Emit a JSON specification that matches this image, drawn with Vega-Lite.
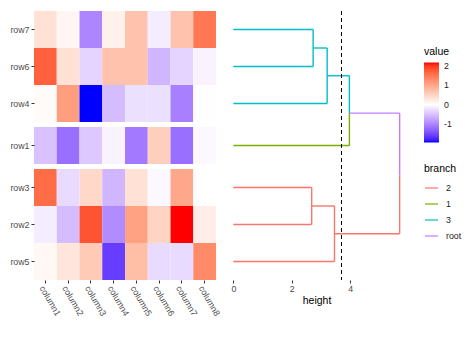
{
  "$schema": "https://vega.github.io/schema/vega-lite/v6.json",
  "padding": {"left": 9, "top": 10, "right": 0, "bottom": 0},
  "autosize": {"type": "pad"},
  "spacing": 4,
  "datasets": {
    "heat": [
      {"row": "row7", "col": "column1", "value": 0.35},
      {"row": "row7", "col": "column2", "value": 0.1},
      {"row": "row7", "col": "column3", "value": -1.0},
      {"row": "row7", "col": "column4", "value": 0.15},
      {"row": "row7", "col": "column5", "value": 0.7},
      {"row": "row7", "col": "column6", "value": -0.15},
      {"row": "row7", "col": "column7", "value": 0.7},
      {"row": "row7", "col": "column8", "value": 1.5},
      {"row": "row6", "col": "column1", "value": 1.7},
      {"row": "row6", "col": "column2", "value": 0.35},
      {"row": "row6", "col": "column3", "value": -0.35},
      {"row": "row6", "col": "column4", "value": 0.7},
      {"row": "row6", "col": "column5", "value": 0.7},
      {"row": "row6", "col": "column6", "value": -0.6},
      {"row": "row6", "col": "column7", "value": -0.35},
      {"row": "row6", "col": "column8", "value": -0.1},
      {"row": "row4", "col": "column1", "value": 0.05},
      {"row": "row4", "col": "column2", "value": 1.1},
      {"row": "row4", "col": "column3", "value": -1.95},
      {"row": "row4", "col": "column4", "value": -0.55},
      {"row": "row4", "col": "column5", "value": -0.25},
      {"row": "row4", "col": "column6", "value": -0.25},
      {"row": "row4", "col": "column7", "value": -1.05},
      {"row": "row4", "col": "column8", "value": -0.02},
      {"row": "row1", "col": "column1", "value": -0.5},
      {"row": "row1", "col": "column2", "value": -1.2},
      {"row": "row1", "col": "column3", "value": -0.45},
      {"row": "row1", "col": "column4", "value": -0.1},
      {"row": "row1", "col": "column5", "value": -1.1},
      {"row": "row1", "col": "column6", "value": 0.55},
      {"row": "row1", "col": "column7", "value": -1.2},
      {"row": "row1", "col": "column8", "value": -0.05},
      {"row": "row3", "col": "column1", "value": 1.6},
      {"row": "row3", "col": "column2", "value": -0.3},
      {"row": "row3", "col": "column3", "value": 0.45},
      {"row": "row3", "col": "column4", "value": -0.6},
      {"row": "row3", "col": "column5", "value": 0.35},
      {"row": "row3", "col": "column6", "value": -0.05},
      {"row": "row3", "col": "column7", "value": 1.0},
      {"row": "row3", "col": "column8", "value": 0.0},
      {"row": "row2", "col": "column1", "value": -0.15},
      {"row": "row2", "col": "column2", "value": -0.55},
      {"row": "row2", "col": "column3", "value": 1.8},
      {"row": "row2", "col": "column4", "value": -0.95},
      {"row": "row2", "col": "column5", "value": 1.05},
      {"row": "row2", "col": "column6", "value": 0.5},
      {"row": "row2", "col": "column7", "value": 2.17},
      {"row": "row2", "col": "column8", "value": 0.2},
      {"row": "row5", "col": "column1", "value": 0.08},
      {"row": "row5", "col": "column2", "value": 0.3},
      {"row": "row5", "col": "column3", "value": 0.6},
      {"row": "row5", "col": "column4", "value": -1.6},
      {"row": "row5", "col": "column5", "value": 0.75},
      {"row": "row5", "col": "column6", "value": -0.3},
      {"row": "row5", "col": "column7", "value": -0.3},
      {"row": "row5", "col": "column8", "value": 1.3}
    ],
    "tree": [
      {"x": 0, "x2": 2.73, "y": 0.5, "y2": 0.5, "branch": "3"},
      {"x": 0, "x2": 2.73, "y": 1.5, "y2": 1.5, "branch": "3"},
      {"x": 2.73, "x2": 2.73, "y": 0.5, "y2": 1.5, "branch": "3"},
      {"x": 2.73, "x2": 3.21, "y": 1.0, "y2": 1.0, "branch": "3"},
      {"x": 0, "x2": 3.21, "y": 2.5, "y2": 2.5, "branch": "3"},
      {"x": 3.21, "x2": 3.21, "y": 1.0, "y2": 2.5, "branch": "3"},
      {"x": 3.21, "x2": 3.97, "y": 1.75, "y2": 1.75, "branch": "3"},
      {"x": 3.97, "x2": 3.97, "y": 1.75, "y2": 2.76, "branch": "3"},
      {"x": 3.97, "x2": 3.97, "y": 2.76, "y2": 3.635, "branch": "1"},
      {"x": 0, "x2": 3.97, "y": 3.635, "y2": 3.635, "branch": "1"},
      {"x": 3.97, "x2": 5.69, "y": 2.76, "y2": 2.76, "branch": "root"},
      {"x": 5.69, "x2": 5.69, "y": 2.76, "y2": 4.45, "branch": "root"},
      {"x": 5.69, "x2": 5.69, "y": 4.45, "y2": 6.02, "branch": "2"},
      {"x": 3.46, "x2": 5.69, "y": 6.02, "y2": 6.02, "branch": "2"},
      {"x": 3.46, "x2": 3.46, "y": 5.27, "y2": 6.77, "branch": "2"},
      {"x": 0, "x2": 3.46, "y": 6.77, "y2": 6.77, "branch": "2"},
      {"x": 2.68, "x2": 3.46, "y": 5.27, "y2": 5.27, "branch": "2"},
      {"x": 2.68, "x2": 2.68, "y": 4.77, "y2": 5.77, "branch": "2"},
      {"x": 0, "x2": 2.68, "y": 4.77, "y2": 4.77, "branch": "2"},
      {"x": 0, "x2": 2.68, "y": 5.77, "y2": 5.77, "branch": "2"}
    ],
    "cut": [{"h": 3.7}]
  },
  "config": {
    "font": "Liberation Sans",
    "view": {"stroke": null},
    "axis": {
      "labelFont": "Liberation Sans",
      "titleFont": "Liberation Sans",
      "labelFontSize": 8.8,
      "labelColor": "#4D4D4D",
      "tickColor": "#333333",
      "tickSize": 3,
      "domain": false,
      "grid": false,
      "titleFontSize": 10.5,
      "titleFontWeight": "normal",
      "titleColor": "#000000"
    },
    "legend": {
      "titleFont": "Liberation Sans",
      "labelFont": "Liberation Sans",
      "titleFontSize": 10.5,
      "titleFontWeight": "normal",
      "titleColor": "#000000",
      "labelFontSize": 8.8,
      "labelColor": "#1A1A1A",
      "padding": 0
    }
  },
  "resolve": {"scale": {"fill": "shared", "stroke": "shared"}},
  "hconcat": [
    {
      "spacing": 5,
      "resolve": {"scale": {"y": "independent", "fill": "shared"}},
      "vconcat": [
        {
          "width": 182,
          "height": 111,
          "data": {"name": "heat"},
          "transform": [{"filter": {"field": "row", "oneOf": ["row7", "row6", "row4"]}}],
          "mark": {"type": "rect", "strokeWidth": 0},
          "encoding": {
            "x": {"field": "col", "type": "nominal", "axis": null,
                  "scale": {"domain": ["column1", "column2", "column3", "column4", "column5", "column6", "column7", "column8"], "paddingInner": 0, "paddingOuter": 0}},
            "y": {"field": "row", "type": "nominal", "title": null,
                  "axis": {"labelPadding": 2},
                  "scale": {"domain": ["row7", "row6", "row4"], "paddingInner": 0, "paddingOuter": 0}},
            "fill": {"field": "value", "type": "quantitative",
                     "scale": {"domain": [-1.95, 2.17], "domainMid": 0, "range": ["#0000FF", "#FFFFFF", "#FF0000"], "interpolate": "lab"},
                     "legend": {"title": "value", "orient": "none", "legendX": 390, "legendY": 36, "gradientLength": 80, "gradientThickness": 15, "values": [-1, 0, 1, 2], "titlePadding": 5, "labelOffset": 5, "gradientStrokeWidth": 0,
                                "labelExpr": "datum.value < 0 ? '-' + abs(datum.value) : datum.label"}}
          }
        },
        {
          "width": 182,
          "height": 37,
          "data": {"name": "heat"},
          "transform": [{"filter": {"field": "row", "oneOf": ["row1"]}}],
          "mark": {"type": "rect", "strokeWidth": 0},
          "encoding": {
            "x": {"field": "col", "type": "nominal", "axis": null,
                  "scale": {"domain": ["column1", "column2", "column3", "column4", "column5", "column6", "column7", "column8"], "paddingInner": 0, "paddingOuter": 0}},
            "y": {"field": "row", "type": "nominal", "title": null,
                  "axis": {"labelPadding": 2},
                  "scale": {"domain": ["row1"], "paddingInner": 0, "paddingOuter": 0}},
            "fill": {"field": "value", "type": "quantitative",
                     "scale": {"domain": [-1.95, 2.17], "domainMid": 0, "range": ["#0000FF", "#FFFFFF", "#FF0000"], "interpolate": "lab"}}
          }
        },
        {
          "width": 182,
          "height": 111,
          "data": {"name": "heat"},
          "transform": [{"filter": {"field": "row", "oneOf": ["row3", "row2", "row5"]}}],
          "mark": {"type": "rect", "strokeWidth": 0},
          "encoding": {
            "x": {"field": "col", "type": "nominal", "title": null,
                  "axis": {"labelAngle": 60, "labelAlign": "left", "labelBaseline": "top", "labelPadding": 1},
                  "scale": {"domain": ["column1", "column2", "column3", "column4", "column5", "column6", "column7", "column8"], "paddingInner": 0, "paddingOuter": 0}},
            "y": {"field": "row", "type": "nominal", "title": null,
                  "axis": {"labelPadding": 2},
                  "scale": {"domain": ["row3", "row2", "row5"], "paddingInner": 0, "paddingOuter": 0}},
            "fill": {"field": "value", "type": "quantitative",
                     "scale": {"domain": [-1.95, 2.17], "domainMid": 0, "range": ["#0000FF", "#FFFFFF", "#FF0000"], "interpolate": "lab"}}
          }
        }
      ]
    },
    {
      "width": 183,
      "height": 269,
      "layer": [
        {
          "data": {"name": "tree"},
          "mark": {"type": "rule", "strokeWidth": 1.4},
          "encoding": {
            "x": {"field": "x", "type": "quantitative", "title": "height",
                  "scale": {"domain": [-0.285, 5.975], "nice": false, "zero": false},
                  "axis": {"values": [0, 2, 4], "labelPadding": 1, "titlePadding": 3}},
            "x2": {"field": "x2"},
            "y": {"field": "y", "type": "quantitative", "axis": null,
                  "scale": {"domain": [0, 7.27], "reverse": true, "nice": false, "zero": false}},
            "y2": {"field": "y2"},
            "stroke": {"field": "branch", "type": "nominal",
                       "scale": {"domain": ["2", "1", "3", "root"], "range": ["#F8766D", "#7CAE00", "#00BFC4", "#C77CFF"]},
                       "legend": {"title": "branch", "orient": "none", "legendX": 390, "legendY": 153, "symbolType": "stroke", "symbolSize": 169, "symbolStrokeWidth": 1.2, "rowPadding": 3, "titlePadding": 6, "labelOffset": 7}}
          }
        },
        {
          "data": {"name": "cut"},
          "mark": {"type": "rule", "strokeDash": [4, 3], "color": "#000000", "strokeWidth": 1},
          "encoding": {
            "x": {"field": "h", "type": "quantitative"}
          }
        }
      ]
    }
  ]
}
